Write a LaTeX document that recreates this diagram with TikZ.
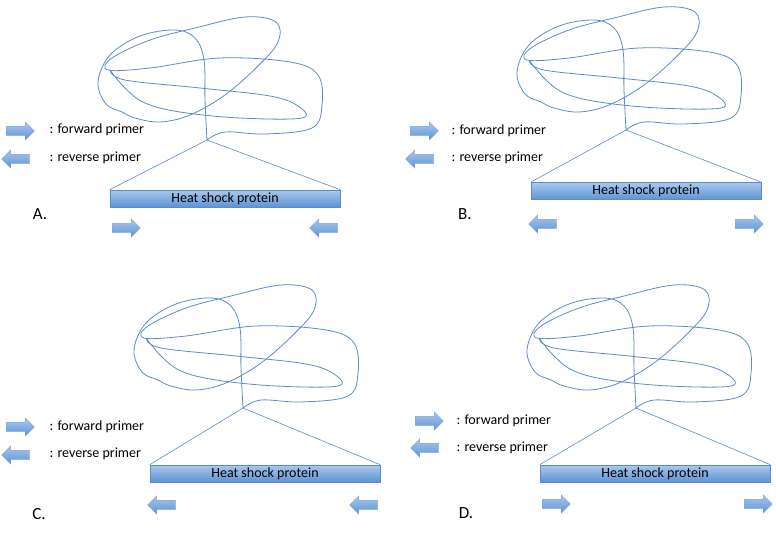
\documentclass[tikz,border=0pt]{standalone}
\usepackage{fontspec}
\setmainfont{Carlito}
\usetikzlibrary{shapes.arrows}
\definecolor{ln}{HTML}{5B8CC8}
\definecolor{ftop}{HTML}{A9C8EE}
\definecolor{fbot}{HTML}{5E93D4}
\tikzset{
 tangle/.style={draw=ln,line width=0.8pt},
 bar/.style={draw=ln,line width=0.6pt,top color=ftop,bottom color=fbot,minimum width=230pt,minimum height=17pt,inner sep=0pt,font=\fontsize{14}{15}\selectfont},
 fw/.style={single arrow,single arrow head extend=4.5pt,minimum height=28pt,minimum width=17pt,inner sep=4.5pt,draw=ln!80,line width=0.3pt,top color=ftop,bottom color=fbot,shape border rotate=0},
 rv/.style={fw,shape border rotate=180},
 lbl/.style={anchor=west,font=\fontsize{14}{15}\selectfont},
 big/.style={font=\fontsize{17}{18}\selectfont}
}
\newcommand\mytangle{%
\draw[tangle] plot[smooth,tension=0.6] coordinates {(207,140) (205,100) (204,60) (195,38) (175,30) (140,36) (110,55) (98,82) (106,104) (122,112) (135,118) (160,122) (190,115) (225,95) (258,66) (278,42) (276,22) (245,17) (195,28) (150,40) (112,58) (108,70) (150,68) (220,58) (290,62) (318,75) (322,105) (312,128) (265,134) (225,132) (207,140)};
\draw[tangle] plot[smooth,tension=0.6] coordinates {(110,70) (125,80) (200,88) (270,96) (298,106) (302,118) (240,118) (180,112) (145,103) (125,88) (110,70)};
}
\begin{document}
\begin{tikzpicture}[x=1pt,y=-1pt]
\useasboundingbox (0,0) rectangle (776,536);
% Panel A
\begin{scope}\mytangle\end{scope}
\coordinate (jA) at (207,140);
\node[bar] (hA) at (225,198.5) {Heat shock protein};
\draw[tangle,line width=0.6pt] (hA.north west) -- (jA) -- (hA.north east);
\node[big] (tA) at (40,214) {A.};
\node[fw] (lfA) at (18,131) {};
\node[rv] (lrA) at (18,159) {};
\node[lbl] (tfA) at (46,130) {: forward primer};
\node[lbl] (trA) at (46,158) {: reverse primer};
\node[fw] (a1A) at (124,228) {};
\node[rv] (a2A) at (326,228) {};
% Panel B
\begin{scope}[shift={(419,-10)}]\mytangle\end{scope}
\coordinate (jB) at (626,130);
\node[bar] (hB) at (646,191) {Heat shock protein};
\draw[tangle,line width=0.6pt] (hB.north west) -- (jB) -- (hB.north east);
\node[big] (tB) at (465,214) {B.};
\node[fw] (lfB) at (422,131) {};
\node[rv] (lrB) at (422,159) {};
\node[lbl] (tfB) at (448,131) {: forward primer};
\node[lbl] (trB) at (448,158) {: reverse primer};
\node[rv] (a1B) at (545,224) {};
\node[fw] (a2B) at (747,224) {};
% Panel C
\begin{scope}[shift={(36,268)}]\mytangle\end{scope}
\coordinate (jC) at (243,408);
\node[bar] (hC) at (265,473.5) {Heat shock protein};
\draw[tangle,line width=0.6pt] (hC.north west) -- (jC) -- (hC.north east);
\node[big] (tC) at (39,514) {C.};
\node[fw] (lfC) at (18,427) {};
\node[rv] (lrC) at (18,455) {};
\node[lbl] (tfC) at (46,427) {: forward primer};
\node[lbl] (trC) at (46,454) {: reverse primer};
\node[rv] (a1C) at (164,505) {};
\node[rv] (a2C) at (366,505) {};
% Panel D
\begin{scope}[shift={(429,268)}]\mytangle\end{scope}
\coordinate (jD) at (636,408);
\node[bar] (hD) at (655,473.5) {Heat shock protein};
\draw[tangle,line width=0.6pt] (hD.north west) -- (jD) -- (hD.north east);
\node[big] (tD) at (466,513) {D.};
\node[fw] (lfD) at (427,421) {};
\node[rv] (lrD) at (427,448) {};
\node[lbl] (tfD) at (453,421) {: forward primer};
\node[lbl] (trD) at (453,448) {: reverse primer};
\node[fw] (a1D) at (554,504) {};
\node[fw] (a2D) at (756,504) {};
\end{tikzpicture}
\end{document}
